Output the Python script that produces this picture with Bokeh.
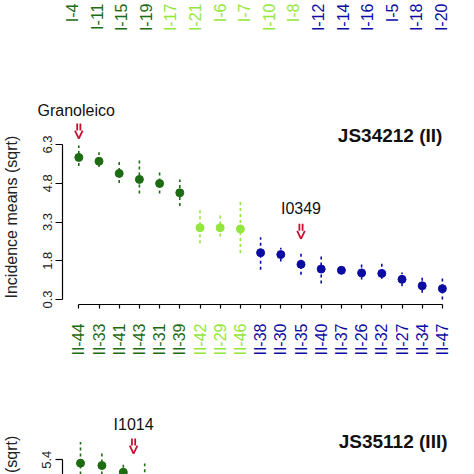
from bokeh.plotting import figure
from bokeh.layouts import column
from bokeh.models import ColumnDataSource, FixedTicker, Label, Range1d, Title
from bokeh.core.properties import value
from bokeh.embed import file_html
from bokeh.resources import INLINE
import math

FONT = "Liberation Sans"
COLORS = {"dark": "#1d6b12", "light": "#93e63c", "blue": "#0c0ca3"}
RED = "#c8102e"

# ---------------- data ----------------
panel1_labels = ["I-4", "I-11", "I-15", "I-19", "I-17", "I-21", "I-6", "I-7",
                 "I-10", "I-8", "I-12", "I-14", "I-16", "I-5", "I-18", "I-20"]
panel1_groups = ["dark"] * 4 + ["light"] * 6 + ["blue"] * 6

panel2_labels = ["II-44", "II-33", "II-41", "II-43", "II-31", "II-39", "II-42", "II-29",
                 "II-46", "II-38", "II-30", "II-35", "II-40", "II-37", "II-26", "II-32",
                 "II-27", "II-34", "II-47"]
panel2_groups = ["dark"] * 6 + ["light"] * 3 + ["blue"] * 10
panel2_means = [5.80, 5.65, 5.18, 4.95, 4.79, 4.43, 3.08, 3.08, 3.03, 2.11,
                2.04, 1.66, 1.48, 1.43, 1.33, 1.31, 1.08, 0.83, 0.72]
panel2_lo = [5.47, 5.43, 4.81, 4.40, 4.40, 3.92, 2.48, 2.74, 2.10, 1.45,
             1.77, 1.26, 0.92, 1.33, 1.07, 1.10, 0.81, 0.56, 0.30]
panel2_hi = [6.26, 6.00, 5.66, 5.68, 5.22, 4.95, 3.83, 3.57, 4.08, 2.71,
             2.30, 2.16, 2.07, 1.53, 1.68, 1.68, 1.35, 1.17, 1.11]
panel2_yticks = [0.3, 1.8, 3.3, 4.8, 6.3]

panel3_groups = ["dark"] * 4
panel3_means = [5.27, 5.18, 4.92, 4.60]
panel3_lo = [4.60, 4.60, 4.40, 4.00]
panel3_hi = [6.08, 5.69, 5.31, 5.26]
panel3_yticks = [5.4]

YTITLE = "Incidence means (sqrt)"

# annotations: (x position, label y, arrow tip y, text)
panel2_first_note = (1, 6.53, "Granoleico")
panel2_notes = [(12, 3.84, 2.65, "I0349")]
panel3_notes = [(3.48, 6.76, 5.64, "I1014")]


def base_fig(height, xr, yr, yaxis=False, xaxis=False, top=0, bottom=0):
    p = figure(width=474, height=height, x_range=xr, y_range=yr,
               toolbar_location=None, output_backend="svg",
               x_axis_location="below" if xaxis else None,
               y_axis_location="left" if yaxis else None,
               min_border_left=62, min_border_right=0,
               min_border_top=top, min_border_bottom=bottom)
    p.grid.visible = False
    p.outline_line_color = None
    p.background_fill_color = "white"
    p.border_fill_color = "white"
    p.title.visible = False
    return p


def style_yaxis(p, ticks, bounds, title_offset):
    ax = p.yaxis[0]
    ax.ticker = FixedTicker(ticks=ticks)
    ax.bounds = bounds
    ax.major_tick_out = 7
    ax.major_tick_in = 0
    ax.minor_tick_line_color = None
    ax.axis_line_width = 1.2
    ax.major_tick_line_width = 1.2
    ax.axis_line_color = "black"
    ax.major_tick_line_color = "black"
    ax.major_label_orientation = "vertical"
    ax.major_label_standoff = 4
    ax.major_label_text_font = FONT
    ax.major_label_text_font_size = "13px"
    ax.major_label_text_color = "#222222"
    # blank spacer label so the axis title sits at the far left edge
    ax.axis_label = " "
    ax.axis_label_standoff = 0
    ax.axis_label_text_font_size = "15px"
    p.add_layout(Title(text=YTITLE, align="left", vertical_align="bottom",
                       offset=title_offset, standoff=0,
                       text_font=FONT, text_font_size="16px", text_font_style="normal",
                       text_color="#222222"), "left")


def draw_points(p, means, lo, hi, groups):
    xs = list(range(1, len(means) + 1))
    src = ColumnDataSource(dict(x=xs, m=means, lo=lo, hi=hi,
                                c=[COLORS[g] for g in groups]))
    p.segment(x0="x", y0="lo", x1="x", y1="hi", line_color="c", line_width=1.6,
              line_dash="3 3", source=src)
    p.scatter(x="x", y="m", size=8, fill_color="c", line_color="c", source=src)


def draw_arrow(p, x, tip, ux, uy):
    # ux, uy: data units per pixel
    xs0, ys0, xs1, ys1 = [], [], [], []
    for dx in (-1.6, 1.6):
        xs0.append(x + dx * ux); ys0.append(tip + 8 * uy)
        xs1.append(x + dx * ux); ys1.append(tip + 15 * uy)
    for dx in (-3.8, 3.8):
        xs0.append(x + dx * ux); ys0.append(tip + 8 * uy)
        xs1.append(x); ys1.append(tip)
    p.segment(x0=xs0, y0=ys0, x1=xs1, y1=ys1, line_color=RED, line_width=1.8)


def add_notes(p, notes, ux, uy):
    for x, ly, tip, txt in notes:
        p.add_layout(Label(x=x, y=ly, text=txt, text_align="center",
                           text_baseline="middle", text_font=FONT,
                           text_font_size="16px", text_color="#111111"))
        draw_arrow(p, x, tip, ux, uy)


def label_strip(p, labels, groups, ytop):
    src = ColumnDataSource(dict(x=list(range(1, len(labels) + 1)), y=[ytop] * len(labels),
                                t=labels, c=[COLORS[g] for g in groups]))
    p.text(x="x", y="y", text="t", angle=math.pi / 2, text_align="right",
           text_baseline="middle", text_color="c", text_font=value(FONT),
           text_font_size="16px", source=src)


# ---------------- top strip: panel I labels ----------------
H1 = 97
sp1 = 24.6
x0_1 = 1 - (72 - 62) / sp1
f1 = base_fig(H1, Range1d(x0_1, x0_1 + 412 / sp1), Range1d(0, H1))
label_strip(f1, panel1_labels, panel1_groups, H1 - 3)

# ---------------- panel II ----------------
sp2 = 20.2
ppu2 = 155 / 6.0
x0_2 = 1 - 16.3 / sp2
xr2 = Range1d(x0_2, x0_2 + 412 / sp2)
FH2 = 184          # frame height (120 -> 304)
ytop2 = 6.3 + 24 / ppu2
yr2 = Range1d(ytop2 - FH2 / ppu2, ytop2)
f2 = base_fig(23 + FH2 + 18, xr2, yr2, yaxis=True, xaxis=True, top=23, bottom=18)
style_yaxis(f2, panel2_yticks, (0.3, 6.3), 6)
xa = f2.xaxis[0]
xa.ticker = FixedTicker(ticks=list(range(1, len(panel2_labels) + 1)))
xa.major_label_overrides = {i: "" for i in range(1, len(panel2_labels) + 1)}
xa.bounds = (1, len(panel2_labels))
xa.major_tick_out = 4
xa.major_tick_in = 0
xa.minor_tick_line_color = None
xa.major_label_standoff = 0
xa.axis_line_width = 1.2
xa.major_tick_line_width = 1.2
draw_points(f2, panel2_means, panel2_lo, panel2_hi, panel2_groups)
gx, gtip, gtxt = panel2_first_note
f2.add_layout(Title(text=gtxt, align="left", offset=-25, standoff=4,
                    text_font=FONT, text_font_size="16px", text_font_style="normal",
                    text_color="#111111"), "above")
draw_arrow(f2, gx, gtip, 1 / sp2, 1 / ppu2)
add_notes(f2, panel2_notes, 1 / sp2, 1 / ppu2)
f2.add_layout(Label(x=len(panel2_labels), y=6.65, text="JS34212 (II)", text_align="right",
                    text_baseline="middle", text_font=FONT, text_font_size="19px",
                    text_font_style="bold", text_color="#111111"))

# ---------------- panel II labels ----------------
f3 = base_fig(78, xr2, Range1d(0, 78))
label_strip(f3, panel2_labels, panel2_groups, 77)

# ---------------- panel III (top part) ----------------
sp3 = 21.4
ppu3 = 26.0
x0_3 = 1 - 18 / sp3
ytop3 = 5.4 + 59.3 / ppu3
f4 = base_fig(74, Range1d(x0_3, x0_3 + 412 / sp3), Range1d(ytop3 - 74 / ppu3, ytop3),
              yaxis=True)
style_yaxis(f4, panel3_yticks, (1.12, 5.4), -124)
draw_points(f4, panel3_means, panel3_lo, panel3_hi, panel3_groups)
add_notes(f4, panel3_notes, 1 / sp3, 1 / ppu3)
f4.add_layout(Label(x=18.15, y=6.12, text="JS35112 (III)", text_align="right",
                    text_baseline="middle", text_font=FONT, text_font_size="19px",
                    text_font_style="bold", text_color="#111111"))

layout = column(f1, f2, f3, f4, spacing=0)
open("out.html", "w").write(file_html(layout, INLINE))
